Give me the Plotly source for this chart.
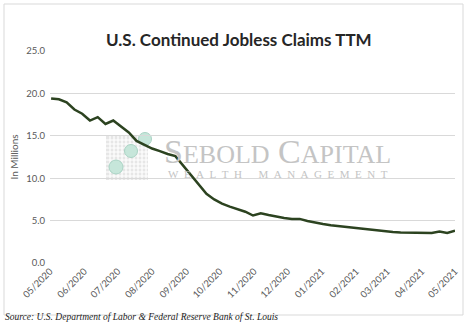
import pandas as pd
import plotly.graph_objects as go

# Weekly continued jobless claims, millions
dates = pd.date_range("2020-05-02", periods=53, freq="7D")
claims = [19.4, 19.3, 18.95, 18.1, 17.6, 16.8, 17.2, 16.4, 16.8, 16.1,
          15.4, 14.4, 13.9, 13.5, 13.2, 12.85, 12.6, 11.5, 10.4, 9.3,
          8.15, 7.5, 7.0, 6.65, 6.35, 6.05, 5.6, 5.85, 5.65, 5.45,
          5.3, 5.2, 5.2, 4.95, 4.75, 4.6, 4.45, 4.35, 4.25, 4.1,
          4.05, 3.95, 3.8, 3.7, 3.65, 3.6, 3.6, 3.6, 3.6, 3.55,
          3.7, 3.55, 3.8]
y_ticks = [0, 5, 10, 15, 20, 25]

W, H = 474, 334
L, R, T, B = 50, 19, 51, 71
pw, ph = W - L - R, H - T - B

def px(x):
    return (x - L) / pw

def py(y):
    return (H - B - y) / ph

fig = go.Figure()
fig.add_trace(go.Scatter(x=dates, y=claims, mode="lines",
                         line=dict(color="#2c4320", width=2.5),
                         hoverinfo="skip", showlegend=False))

shapes = []
# outer frame
shapes.append(dict(type="rect", xref="paper", yref="paper",
                   x0=px(4), x1=px(463), y0=py(315), y1=py(4),
                   line=dict(color="#d9d9d9", width=1), fillcolor="rgba(0,0,0,0)",
                   layer="below"))
# watermark logo grid
gx0, gx1, gy0, gy1 = 106, 148, 136, 180
shapes.append(dict(type="rect", xref="paper", yref="paper",
                   x0=px(gx0), x1=px(gx1), y0=py(gy1), y1=py(gy0),
                   line=dict(width=0), fillcolor="#e6e6e6", layer="below"))
step = 4
xx = gx0 + step
while xx < gx1:
    shapes.append(dict(type="line", xref="paper", yref="paper",
                       x0=px(xx), x1=px(xx), y0=py(gy1), y1=py(gy0),
                       line=dict(color="white", width=1.2), layer="below"))
    xx += step
yy = gy0 + step
while yy < gy1:
    shapes.append(dict(type="line", xref="paper", yref="paper",
                       x0=px(gx0), x1=px(gx1), y0=py(yy), y1=py(yy),
                       line=dict(color="white", width=1.2), layer="below"))
    yy += step
for cx, cy, r in [(116, 167, 7), (131, 151, 6.5), (145, 139, 6.5)]:
    shapes.append(dict(type="circle", xref="paper", yref="paper",
                       x0=px(cx - r), x1=px(cx + r), y0=py(cy + r), y1=py(cy - r),
                       line=dict(color="#a9d3c4", width=1), fillcolor="#c6e6da",
                       layer="below"))

sp = "&nbsp;&nbsp;"
wm2 = sp.join("WEALTH") + sp * 3 + sp.join("MANAGEMENT")
annotations = [
    dict(text="<b>U.S. Continued Jobless Claims TTM</b>", xref="paper", yref="paper",
         x=px(239), y=py(27), showarrow=False,
         font=dict(family="Lato", size=17, color="#262626")),
    dict(text="S<span style='font-size:26px'>EBOLD</span> C<span style='font-size:26px'>APITAL</span>",
         xref="paper", yref="paper", x=px(277), y=py(151), showarrow=False,
         font=dict(family="Liberation Serif", size=34, color="#c4c4c4")),
    dict(text=wm2,
         xref="paper", yref="paper", x=px(278), y=py(174), showarrow=False,
         font=dict(family="Liberation Serif", size=11, color="#c4c4c4")),
    dict(text="<i>Source: U.S. Department of Labor &amp; Federal Reserve Bank of St. Louis</i>",
         xref="paper", yref="paper", x=px(3), y=py(324), xanchor="left",
         showarrow=False,
         font=dict(family="Liberation Serif", size=9.5, color="#222222")),
]

fig.update_layout(
    width=W, height=H,
    margin=dict(l=L, r=R, t=T, b=B),
    paper_bgcolor="white", plot_bgcolor="white",
    shapes=shapes, annotations=annotations,
    font=dict(family="Lato", color="#595959"),
    xaxis=dict(type="date", range=["2020-05-01", "2021-05-01"],
               tick0="2020-05-01", dtick="M1", tickformat="%m/%Y",
               tickangle=-45, showgrid=False, zeroline=False, showline=False,
               tickfont=dict(size=9.5, color="#595959"), ticks=""),
    yaxis=dict(range=[0, 25], tickvals=y_ticks,
               ticktext=[f"{v:.1f}" for v in y_ticks],
               showgrid=True, gridcolor="#d9d9d9", gridwidth=1,
               zeroline=False, showline=False, ticks="",
               ticklabelstandoff=4,
               tickfont=dict(size=9.5, color="#595959"),
               title=dict(text="In Millions", font=dict(size=10, color="#595959"),
                          standoff=5)),
)

fig.write_html("out.html")
